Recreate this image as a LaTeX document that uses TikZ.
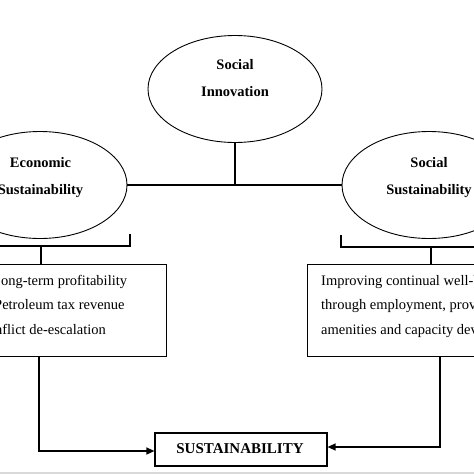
\documentclass[tikz,border=0pt]{standalone}
\usepackage{fontspec}
\setmainfont{Liberation Serif}
\usetikzlibrary{shapes.geometric,arrows.meta}
\begin{document}
\begin{tikzpicture}[x=1pt,y=-1pt,
  oval/.style={draw,ellipse,line width=0.9pt,minimum width=174pt,minimum height=107pt,inner sep=0pt},
  conn/.style={line width=1.3pt},
  boxstyle/.style={draw,line width=1.2pt,inner sep=0pt,anchor=north west},
  boldtxt/.style={font=\fontsize{14.5}{17}\selectfont\bfseries,inner sep=0pt,anchor=base},
  bodytxt/.style={font=\fontsize{14.5}{17}\selectfont,inner sep=0pt,anchor=base west},
  tiparrow/.style={-{Triangle[length=8pt,width=7pt]}}
]
\useasboundingbox (0,0) rectangle (474,474);
\fill[white] (0,0) rectangle (474,474);
\clip (0,0) rectangle (474,474);
\fill[black!15] (0,472) rectangle (474,474);

% ellipses
\node[oval] (innov) at (235,89) {};
\node[oval] (econ) at (40,185) {};
\node[oval] (socs) at (429,185) {};
\node[boldtxt] (t1) at (235,69.3) {Social};
\node[boldtxt] (t2) at (235,96) {Innovation};
\node[boldtxt] (t3) at (40.5,167.3) {Economic};
\node[boldtxt] (t4) at (40.5,194) {Sustainability};
\node[boldtxt] (t5) at (429,167.3) {Social};
\node[boldtxt] (t6) at (429,194) {Sustainability};

% connectors between ellipses
\coordinate (jn) at (innov.south |- econ.east);
\draw[conn] (innov.south) -- (jn);
\draw[conn] (econ.east) -- (socs.west);

% boxes
\node[boxstyle,minimum width=188pt,minimum height=92pt] (lbox) at (-22,264) {};
\node[boxstyle,minimum width=260pt,minimum height=92pt] (rbox) at (307,264) {};
\node[draw,line width=1.2pt,minimum width=172pt,minimum height=33pt,inner sep=0pt] (sus) at (241,449.5) {};
\node[font=\fontsize{15}{17}\selectfont\bfseries,inner sep=0pt,anchor=base] (sust) at (240,453.5) {SUSTAINABILITY};

% box texts
\node[bodytxt] (l1) at (-8,285) {Long-term profitability};
\node[bodytxt] (l2) at (-6,309.5) {Petroleum tax revenue};
\node[bodytxt] (l3) at (-22,334) {Conflict de-escalation};
\node[bodytxt] (r1) at (321,285) {Improving continual well-being};
\node[bodytxt] (r2) at (321,309.5) {through employment, provision of};
\node[bodytxt] (r3) at (321,334) {amenities and capacity development};

% braces
\coordinate (lbl) at (-48,234);
\coordinate (lbr) at (130,234);
\coordinate (lbm) at (41,246);
\draw[conn] (lbl) -- (lbl |- lbm) -- (lbr |- lbm) -- (lbr);
\draw[conn] (lbm) -- (lbm |- lbox.north);
\coordinate (rbl) at (341,235);
\coordinate (rbr) at (521,235);
\coordinate (rbm) at (431,247);
\draw[conn] (rbl) -- (rbl |- rbm) -- (rbr |- rbm) -- (rbr);
\draw[conn] (rbm) -- (rbm |- rbox.north);

% arrows to sustainability
\coordinate (la) at (39,451);
\coordinate (ra) at (440,447);
\draw[conn,tiparrow] (la |- lbox.south) -- (la) -- (la -| sus.west);
\draw[conn,tiparrow] (ra |- rbox.south) -- (ra) -- (ra -| sus.east);
\end{tikzpicture}
\end{document}
